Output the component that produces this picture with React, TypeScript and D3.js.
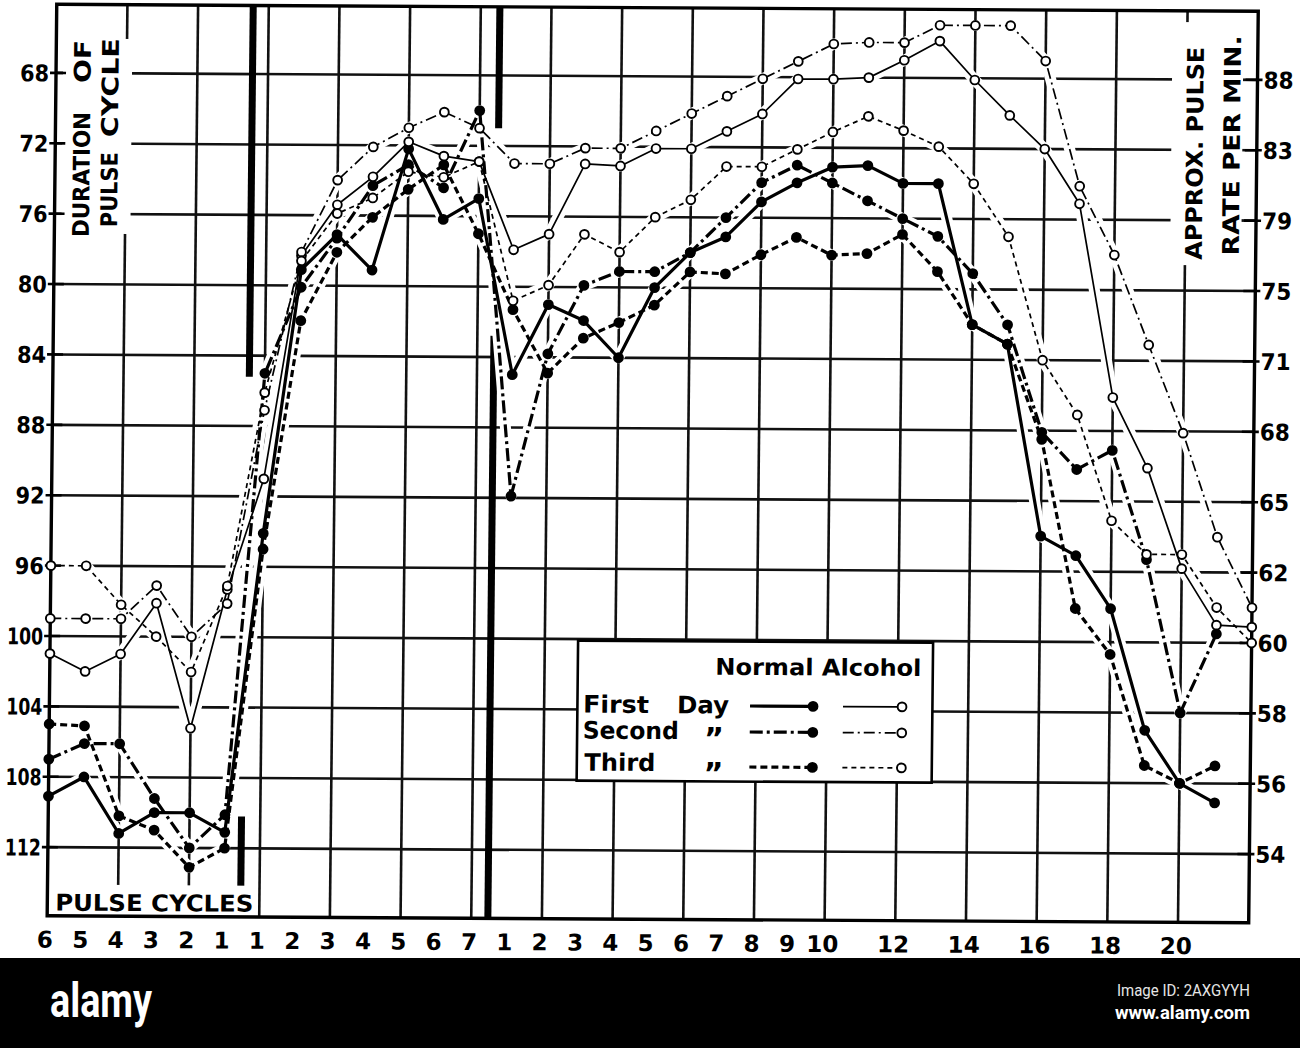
import React from "react";
import * as d3 from "d3";

// x positions are pulse-cycle slots: 0-5 before, 6-12 first period, 13-34 second period
const cycleLabels = [
  "6", "5", "4", "3", "2", "1",
  "1", "2", "3", "4", "5", "6", "7",
  "1", "2", "3", "4", "5", "6", "7", "8", "9", "10", "12", "14", "16", "18", "20",
];
const cycleLabelSlots = [
  0, 1, 2, 3, 4, 5,
  6, 7, 8, 9, 10, 11, 12,
  13, 14, 15, 16, 17, 18, 19, 20, 21, 22, 24, 26, 28, 30, 32,
];
const durationTicks = [68, 72, 76, 80, 84, 88, 92, 96, 100, 104, 108, 112];
const rateLabels = ["88", "83", "79", "75", "71", "68", "65", "62", "60", "58", "56", "54"];

// duration of pulse cycle, normal days (filled dots), slots 0..33
const normalFirst = [
  109.1, 108.0, 111.2, 110.0, 110.0, 111.1,
  94.1, 79.1, 77.1, 79.1, 72.2, 76.2, 75.0,
  85.0, 81.0, 81.9, 84.0, 80.0, 78.0, 77.1, 75.1, 74.0, 73.1, 73.0, 74.0, 74.0,
  82.0, 83.1, 94.0, 95.1, 98.1, 105.0, 108.0, 109.1,
];
const normalSecond = [
  107.0, 106.1, 106.1, 109.2, 112.0, 110.1,
  85.0, 80.1, 77.3, 74.3, 73.1, 74.4, 70.0,
  91.9, 83.8, 79.9, 79.1, 79.1, 78.0, 76.0, 74.0, 73.0, 74.0, 75.0, 76.0, 77.0,
  79.1, 82.0, 88.1, 90.2, 89.1, 95.3, 104.0, 99.5,
];
const normalThird = [
  105.0, 105.1, 110.2, 111.0, 113.1, 112.0,
  95.0, 82.0, 78.1, 76.1, 74.5, 73.1, 77.0,
  81.3, 84.9, 82.9, 82.0, 81.0, 79.1, 79.2, 78.1, 77.1, 78.1, 78.0, 76.9, 79.0,
  82.0, 83.1, 88.5, 98.1, 100.7, 107.0, 108.0, 107.0,
];

// alcohol days (open circles), slots 0..34
const alcFirst = [
  101.0, 102.0, 101.0, 98.1, 105.2, 97.3,
  91.0, 78.3, 75.4, 73.8, 71.8, 72.6, 72.9,
  77.9, 77.0, 73.0, 73.1, 72.1, 72.1, 71.1, 70.1, 68.1, 68.1, 68.0, 67.0, 65.9,
  68.1, 70.1, 72.0, 75.1, 86.1, 90.1, 95.8, 99.0, 99.1,
];
const alcSecond = [
  99.0, 99.0, 99.0, 97.1, 100.0, 98.1,
  87.1, 78.1, 74.0, 72.1, 71.0, 70.1, 71.0,
  73.0, 73.0, 72.1, 72.1, 71.1, 70.1, 69.1, 68.1, 67.1, 66.1, 66.0, 66.0, 65.0,
  65.0, 65.0, 67.0, 74.1, 78.0, 83.1, 88.1, 94.0, 98.0,
];
const alcThird = [
  96.0, 96.0, 98.2, 100.0, 102.0, 97.1,
  86.1, 78.6, 75.9, 75.0, 73.5, 73.8, 72.9,
  80.8, 79.9, 77.0, 78.0, 76.0, 75.0, 73.1, 73.1, 72.1, 71.1, 70.2, 71.0, 71.9,
  74.0, 77.0, 84.0, 87.1, 93.1, 95.0, 95.0, 98.0, 100.0,
];

const FONT = "'DejaVu Sans', 'Liberation Sans', sans-serif";

const App: React.FC = () => {
  const width = 1300;
  const height = 1048;

  const x = d3.scaleLinear().domain([0, 34]).range([52, 1253.5]);
  const y = d3.scaleLinear().domain([64, 116]).range([6, 921]);
  const line = d3
    .line<number>()
    .x((_, i) => x(i))
    .y((v) => y(v));

  const top = y(64.1);
  const bottom = y(115.9);
  const left = x(0);
  const right = x(34);

  const series = [
    { key: "nf", values: normalFirst, normal: true, dash: undefined as string | undefined },
    { key: "ns", values: normalSecond, normal: true, dash: "13 4 3 4" },
    { key: "nt", values: normalThird, normal: true, dash: "7 4" },
    { key: "af", values: alcFirst, normal: false, dash: undefined as string | undefined },
    { key: "as", values: alcSecond, normal: false, dash: "11 4 2 4" },
    { key: "at", values: alcThird, normal: false, dash: "5 4" },
  ];

  // heavy vertical markers (slot, from duration, to duration)
  const bars = [
    { at: 5.56, from: 64.1, to: 85.2 },
    { at: 5.47, from: 110.2, to: 114.2 },
    { at: 12.54, from: 64.1, to: 71.0 },
    { at: 12.47, from: 82.8, to: 115.9 },
  ];

  const gridSlots = d3.range(2, 34, 2);

  const legendRows = [
    { label: "First", ditto: false, yy: 705.4, normalDash: undefined as string | undefined, alcDash: undefined as string | undefined },
    { label: "Second", ditto: true, yy: 731.4, normalDash: "13 4 3 4", alcDash: "11 4 2 4" },
    { label: "Third", ditto: true, yy: 766.4, normalDash: "7 4", alcDash: "5 4" },
  ];

  return (
    <svg
      width={width}
      height={height}
      style={{ position: "absolute", left: 0, top: 0, background: "#fff" }}
      fontFamily={FONT}
    >
      <rect x={0} y={0} width={width} height={height} fill="#fff" />

      {/* the scan is slightly skewed */}
      <g transform="matrix(1 0.0058 -0.0105 1 4.83 -3.77)">
        {/* grid */}
        <g stroke="#111" strokeWidth={2.6}>
          {gridSlots.map((s) => (
            <line key={`v${s}`} x1={x(s)} x2={x(s)} y1={top} y2={bottom} />
          ))}
          {durationTicks.map((d) => (
            <line key={`h${d}`} x1={left} x2={right} y1={y(d)} y2={y(d)} />
          ))}
        </g>

        {/* heavy markers */}
        <g stroke="#000" strokeWidth={7}>
          {bars.map((b, i) => (
            <line key={i} x1={x(b.at)} x2={x(b.at)} y1={y(b.from)} y2={y(b.to)} />
          ))}
        </g>

        {/* blank areas behind titles */}
        <rect x={59} y={42} width={69} height={195} fill="#fff" />
        <rect x={1168} y={19} width={71} height={243} fill="#fff" />
        <rect x={left + 2} y={888} width={x(6) - left - 4} height={bottom - 888 - 1} fill="#fff" />

        {/* white halos so the grid breaks around the curves */}
        <g fill="none" stroke="#fff" strokeWidth={11} strokeLinejoin="round" strokeLinecap="round">
          {series.map((s) => (
            <path key={`halo-${s.key}`} d={line(s.values) || ""} />
          ))}
        </g>

        {/* frame */}
        <rect
          x={left}
          y={top}
          width={right - left}
          height={bottom - top}
          fill="none"
          stroke="#000"
          strokeWidth={3.4}
        />

        {/* ticks */}
        <g stroke="#000" strokeWidth={2.6}>
          {durationTicks.map((d) => (
            <line key={`lt${d}`} x1={left - 6} x2={left + 10} y1={y(d)} y2={y(d)} />
          ))}
          {durationTicks.map((d) => (
            <line key={`rt${d}`} x1={right - 12} x2={right + 5} y1={y(d)} y2={y(d)} />
          ))}
        </g>

        {/* curves */}
        <g fill="none" stroke="#000" strokeLinejoin="round">
          {series.map((s) => (
            <path
              key={`line-${s.key}`}
              d={line(s.values) || ""}
              strokeWidth={s.normal ? 3.2 : 1.7}
              strokeDasharray={s.dash}
            />
          ))}
        </g>

        {/* markers */}
        {series.map((s) => (
          <g key={`pts-${s.key}`}>
            {s.values.map((v, i) =>
              s.normal ? (
                <circle key={i} cx={x(i)} cy={y(v)} r={5.4} fill="#000" />
              ) : (
                <circle key={i} cx={x(i)} cy={y(v)} r={4.4} fill="#fff" stroke="#000" strokeWidth={1.9} />
              )
            )}
          </g>
        ))}

        {/* legend */}
        <g>
          <rect x={580} y={641} width={355} height={140} fill="#fff" stroke="#000" strokeWidth={2.6} />
          <text x={717.6} y={674.4} fontSize={23} fontWeight="bold" textLength={206} lengthAdjust="spacingAndGlyphs">
            Normal Alcohol
          </text>
          <text x={585.6} y={713} fontSize={24} fontWeight="bold" textLength={66} lengthAdjust="spacingAndGlyphs">
            First
          </text>
          <text x={679.6} y={713} fontSize={24} fontWeight="bold" textLength={52} lengthAdjust="spacingAndGlyphs">
            Day
          </text>
          <text x={585.6} y={739} fontSize={24} fontWeight="bold" textLength={96} lengthAdjust="spacingAndGlyphs">
            Second
          </text>
          <text x={587.6} y={771} fontSize={24} fontWeight="bold" textLength={71} lengthAdjust="spacingAndGlyphs">
            Third
          </text>
          {legendRows.map((r) => (
            <g key={r.label}>
              {r.ditto && (
                <text x={707} y={r.yy + 17} fontSize={30} fontWeight="bold">
                  {"\u201D"}
                </text>
              )}
              <line x1={752.6} x2={812.6} y1={r.yy} y2={r.yy} stroke="#000" strokeWidth={3.2} strokeDasharray={r.normalDash} />
              <circle cx={815.6} cy={r.yy} r={5.4} fill="#000" />
              <line x1={845.6} x2={900} y1={r.yy} y2={r.yy} stroke="#000" strokeWidth={1.7} strokeDasharray={r.alcDash} />
              <circle cx={904.6} cy={r.yy} r={4.4} fill="#fff" stroke="#000" strokeWidth={1.9} />
            </g>
          ))}
        </g>

        {/* axis labels */}
        <g fontSize={23} fontWeight="bold" fill="#000">
          {durationTicks.map((d) => (
            <text
              key={`ll${d}`}
              x={left - 7}
              y={y(d) + 8.5}
              textAnchor="end"
              textLength={String(d).length === 3 ? 36 : 29}
              lengthAdjust="spacingAndGlyphs"
            >
              {d}
            </text>
          ))}
          {durationTicks.map((d, i) => (
            <text
              key={`rl${d}`}
              x={right + 6}
              y={y(d) + 8.5}
              textAnchor="start"
              textLength={30}
              lengthAdjust="spacingAndGlyphs"
            >
              {rateLabels[i]}
            </text>
          ))}
          {cycleLabelSlots.map((s, i) => (
            <text key={`xl${i}`} x={x(s) - 2} y={951} textAnchor="middle">
              {cycleLabels[i]}
            </text>
          ))}
        </g>

        {/* titles */}
        <g fontSize={23} fontWeight="bold" fill="#000">
          <text transform="translate(86.5,240.3) rotate(-90)" textLength={125} lengthAdjust="spacingAndGlyphs">
            DURATION
          </text>
          <text transform="translate(86.5,86.3) rotate(-90)" textLength={43} lengthAdjust="spacingAndGlyphs">
            OF
          </text>
          <text transform="translate(114.5,230.3) rotate(-90)" textLength={75} lengthAdjust="spacingAndGlyphs">
            PULSE
          </text>
          <text transform="translate(114.5,140.3) rotate(-90)" textLength={99} lengthAdjust="spacingAndGlyphs">
            CYCLE
          </text>
          <text transform="translate(1199.5,256.6) rotate(-90)" textLength={213} lengthAdjust="spacingAndGlyphs">
            APPROX. PULSE
          </text>
          <text transform="translate(1236.5,252) rotate(-90)" textLength={220} lengthAdjust="spacingAndGlyphs">
            RATE PER MIN.
          </text>
          <text x={60} y={914} textLength={198} lengthAdjust="spacingAndGlyphs">
            PULSE CYCLES
          </text>
        </g>
      </g>

      {/* stock watermark band */}
      <rect x={0} y={958} width={width} height={height - 958} fill="#000" />
      <text
        x={50}
        y={1017}
        fill="#fff"
        fontFamily="Roboto, 'Liberation Sans', sans-serif"
        fontWeight="bold"
        fontSize={48}
        textLength={102}
        lengthAdjust="spacingAndGlyphs"
      >
        alamy
      </text>
      <text
        x={1117}
        y={996}
        fill="#e6e6e6"
        fontFamily="Roboto, 'Liberation Sans', sans-serif"
        fontSize={16}
        textLength={133}
        lengthAdjust="spacingAndGlyphs"
      >
        Image ID: 2AXGYYH
      </text>
      <text
        x={1115}
        y={1019}
        fill="#fff"
        fontFamily="Roboto, 'Liberation Sans', sans-serif"
        fontWeight="bold"
        fontSize={19}
        textLength={135}
        lengthAdjust="spacingAndGlyphs"
      >
        www.alamy.com
      </text>
    </svg>
  );
};

export default App;
